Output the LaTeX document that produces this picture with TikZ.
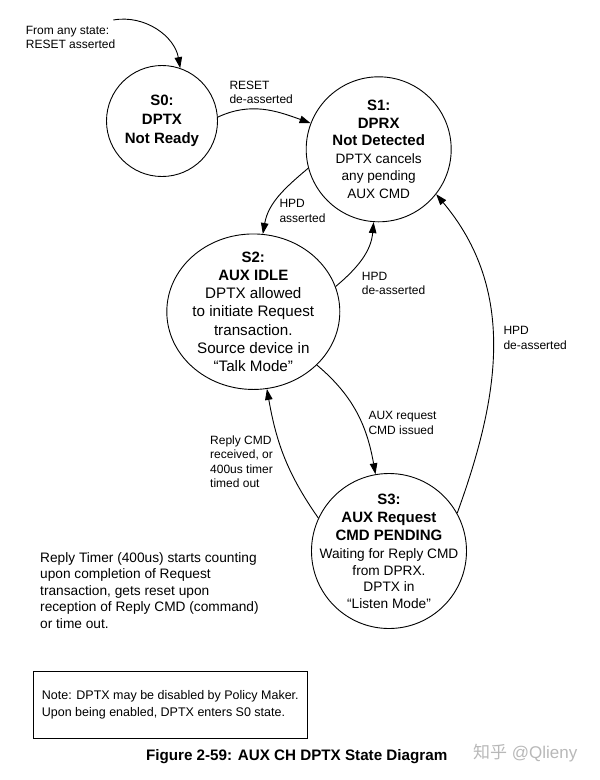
\documentclass[tikz,border=0pt]{standalone}
\usepackage{fontspec}
\setmainfont{Liberation Sans}
\newfontfamily\cjkfont{Noto Sans CJK SC}
\usetikzlibrary{arrows.meta,shapes.geometric}
\usepackage{xcolor}

\newcommand{\stbold}[1]{{\fontsize{15}{18}\selectfont\bfseries #1}}

\begin{document}
\begin{tikzpicture}[x=1pt, y=-1pt, inner sep=0pt]
		\tikzstyle{every node}=[align=center]
		\tikzstyle{stcircle}=[draw, circle, line width=0.9pt]
		\tikzstyle{lbl}=[anchor=west, align=left, font=\fontsize{12}{14.3}\selectfont]
		\tikzstyle{arr}=[line width=0.9pt, -{Triangle[length=11pt, width=7.5pt]}]
			\useasboundingbox (0,0) rectangle (600,780);

			% states
			\node[stcircle, minimum size=111] (s0) at (162,121) {};
			\node[stcircle, minimum size=145] (s1) at (378.7,149.3) {};
			\node[draw, ellipse, line width=0.9pt, minimum width=173, minimum height=155.5] (s2) at (253.3,311.7) {};
			\node[stcircle, minimum size=155] (s3) at (389,551) {};

			\node[font=\fontsize{15}{19.2}\selectfont\bfseries] (s0txt) at (s0) {S0:\\DPTX\\Not Ready};
			\node[font=\fontsize{13.6}{17.5}\selectfont] (s1txt) at (s1) {\stbold{S1:}\\\stbold{DPRX}\\\stbold{Not Detected}\\DPTX cancels\\any pending\\AUX CMD};
			\node[font=\fontsize{15.2}{18.2}\selectfont] (s2txt) at (s2) {\stbold{S2:}\\\stbold{AUX IDLE}\\DPTX allowed\\to initiate Request\\transaction.\\Source device in\\``Talk Mode''};
			\node[font=\fontsize{13.7}{16.4}\selectfont] (s3txt) at (s3) {\stbold{S3:}\\[1.8pt]\stbold{AUX Request}\\[1.8pt]\stbold{CMD PENDING}\\[1.8pt]Waiting for Reply CMD\\from DPRX.\\DPTX in\\``Listen Mode''};

			% transitions
			\coordinate (any) at (113.3,20);
			\draw[arr] (any) to[out=10, in=100] (s0.71);
			\draw[arr] (s0.4) to[out=25, in=160] (s1.159);
			\draw[arr] (s1.195) to[out=220, in=80] (s2.83);
			\draw[arr] (s2.17) to[out=40, in=-95] (s1.266);
			\draw[arr] (s2.-40) to[out=-40, in=100] (s3.100);
			\draw[arr] (s3.155) to[out=125, in=-80] (s2.280);
			\draw[arr] (s3.29) to[out=70, in=-50] (s1.-38);

			\node[lbl] (lblany) at (25.7,37.2) {From any state:\\RESET asserted};
			\node[lbl] (lblreset) at (229.3,92.2) {RESET\\de-asserted};
			\node[lbl] (lblhpdon) at (279.3,210.9) {HPD\\asserted};
			\node[lbl] (lblhpdoff) at (361.7,283.4) {HPD\\de-asserted};
			\node[lbl] (lblhpdlong) at (503.3,338) {HPD\\de-asserted};
			\node[lbl] (lblauxreq) at (368.3,423) {AUX request\\CMD issued};
			\node[lbl] (lblreply) at (210,461.7) {Reply CMD\\received, or\\400us timer\\timed out};

			% notes
			\node[anchor=west, align=left, font=\fontsize{13.7}{16.5}\selectfont] (timer) at (40,590.3) {Reply Timer (400us) starts counting\\upon completion of Request\\transaction, gets reset upon\\reception of Reply CMD (command)\\or time out.};
			\node[draw, line width=0.9pt, minimum width=274, minimum height=66.7, align=left, font=\fontsize{12.5}{16.5}\selectfont] (note) at (170.3,705) {Note: DPTX may be disabled by Policy Maker.\\Upon being enabled, DPTX enters S0 state.};

			\node[font=\fontsize{15.2}{18}\selectfont\bfseries] (caption) at (296.7,756.7) {Figure 2-59: AUX CH DPTX State Diagram};
			\node[anchor=west, text=black!28, font=\fontsize{17}{20}\selectfont] (mark) at (473,753) {{\cjkfont 知乎} @Qlieny};
		\end{tikzpicture}
\end{document}
